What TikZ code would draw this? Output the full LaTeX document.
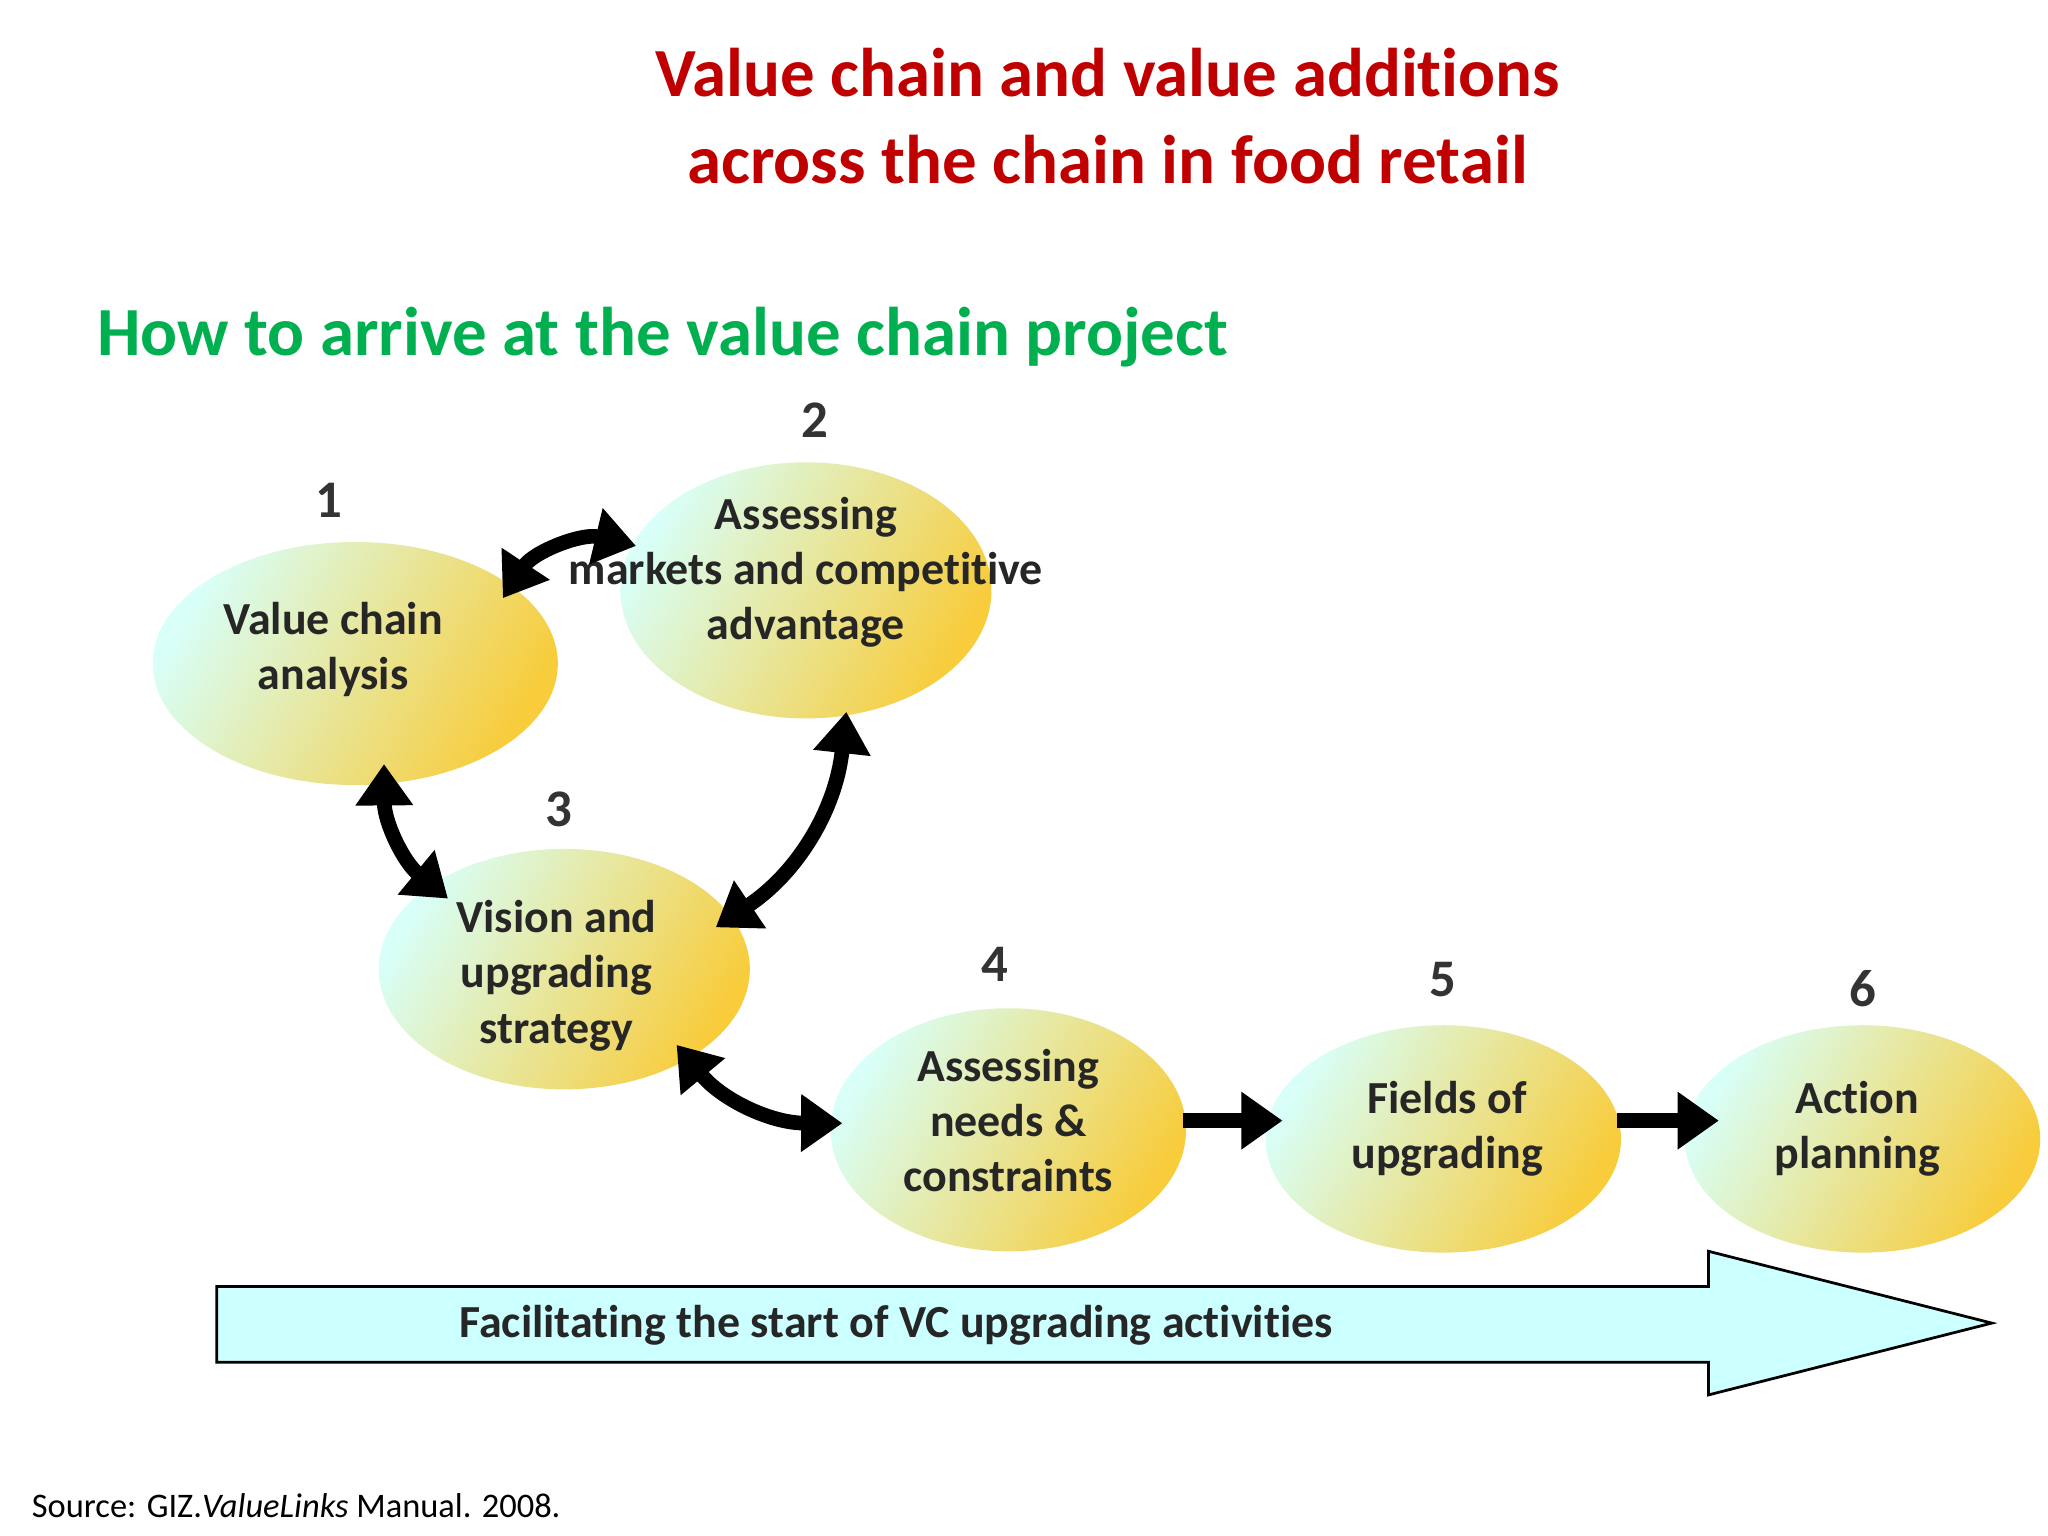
\documentclass[tikz,border=0pt]{standalone}
\usepackage{fontspec}
\setmainfont{Carlito}[Ligatures={NoCommon}]
\usetikzlibrary{arrows.meta,shapes.geometric}
\definecolor{tred}{HTML}{C00000}
\definecolor{tgreen}{HTML}{00B050}
\definecolor{cy}{HTML}{D8FFF8}
\definecolor{gd}{HTML}{F8CC3A}
\definecolor{bar}{HTML}{CCFFFF}
\begin{document}
\begin{tikzpicture}[x=0.01cm,y=-0.01cm,
  ell/.style={ellipse,draw=none,left color=cy,right color=gd,shading angle=60,inner sep=0pt,outer sep=0pt},
  lab/.style={font=\bfseries\fontsize{10}{12}\selectfont,align=center,text=black!85},
  num/.style={font=\bfseries\fontsize{11.5}{13}\selectfont,text=black!80},
  arr/.style={line width=3.2pt,-{Triangle[length=9pt,width=12pt]}},
  darr/.style={line width=3.2pt,{Triangle[length=9pt,width=12pt]}-{Triangle[length=9pt,width=12pt]}}]
\useasboundingbox (0,0) rectangle (1568,1176);
\node[font=\bfseries\fontsize{15}{19}\selectfont,text=tred,align=center] (title) at (848,89) {Value chain and value additions\\across the chain in food retail};
\node[font=\bfseries\fontsize{15}{18}\selectfont,text=tgreen,anchor=west] (sub) at (62,258) {How to arrive at the value chain project};
\node[ell,minimum width=3.10cm,minimum height=1.86cm] (e1) at (272,508) {};
\node[ell,minimum width=2.84cm,minimum height=1.96cm] (e2) at (617,452) {};
\node[ell,minimum width=2.84cm,minimum height=1.84cm] (e3) at (432,742) {};
\node[ell,minimum width=2.72cm,minimum height=1.86cm] (e4) at (772,865) {};
\node[ell,minimum width=2.72cm,minimum height=1.74cm] (e5) at (1105,872) {};
\node[ell,minimum width=2.72cm,minimum height=1.74cm] (e6) at (1426,872) {};
\node[lab] (t1) at (255,497) {Value chain\\analysis};
\node[lab] (t2) at (617,438) {Assessing\\markets and competitive\\advantage};
\node[lab] (t3) at (426,747) {Vision and\\upgrading\\strategy};
\node[lab] (t4) at (772,858) {Assessing\\needs \&\\constraints};
\node[lab] (t5) at (1108,864) {Fields of\\upgrading};
\node[lab] (t6) at (1422,864) {Action\\planning};
\node[num] (n1) at (252,383) {1};
\node[num] (n2) at (624,322) {2};
\node[num] (n3) at (428,620) {3};
\node[num] (n4) at (762,738) {4};
\node[num] (n5) at (1105,750) {5};
\node[num] (n6) at (1426,757) {6};
\coordinate (a1) at (385,458); \coordinate (b1) at (487,418);
\draw[darr] (a1) to[bend left=35] (b1);
\coordinate (a2) at (294,585); \coordinate (b2) at (343,688);
\draw[darr] (a2) to[bend right=25] (b2);
\coordinate (a3) at (648,545); \coordinate (b3) at (548,710);
\draw[darr] (a3) to[bend left=25] (b3);
\coordinate (a4) at (518,800); \coordinate (b4) at (645,860);
\draw[darr] (a4) to[bend right=25] (b4);
\coordinate (a5) at (906,858); \coordinate (b5) at (982,858);
\draw[arr] (a5) -- (b5);
\coordinate (a6) at (1238,858); \coordinate (b6) at (1316,858);
\draw[arr] (a6) -- (b6);
\draw[fill=bar,line width=0.6pt] (166,985) -- (1308,985) -- (1308,958) -- (1525,1013) -- (1308,1068) -- (1308,1043) -- (166,1043) -- cycle;
\node[lab] (fac) at (686,1015) {Facilitating the start of VC upgrading activities};
\node[font=\fontsize{7.5}{9}\selectfont,anchor=west] (src) at (12,1153) {Source: GIZ.\textit{ValueLinks} Manual. 2008.};
\end{tikzpicture}
\end{document}
